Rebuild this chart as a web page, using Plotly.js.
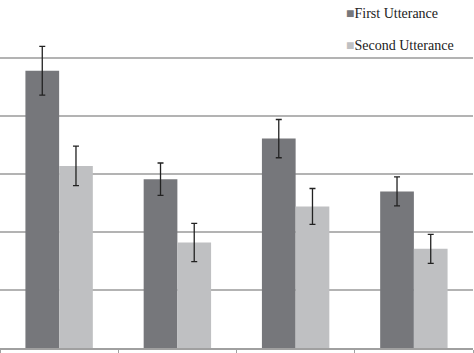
<!DOCTYPE html>
<html>
<head>
<meta charset="utf-8">
<script src="https://cdn.plot.ly/plotly-3.0.1.min.js"></script>
<style>html,body{margin:0;padding:0;background:#fff;}#chart{width:474px;height:353px;}</style>
</head>
<body>
<div id="chart"></div>
<script>
var categories = ["A", "B", "C", "D"];
var seriesNames = ["First Utterance", "Second Utterance"];
var seriesColors = ["#76777b", "#bfc0c2"];
var firstValues = [4.78, 2.91, 3.61, 2.70];
var firstErrors = [0.42, 0.28, 0.33, 0.25];
var secondValues = [3.14, 1.82, 2.44, 1.71];
var secondErrors = [0.34, 0.33, 0.31, 0.25];
var gridValues = [1, 2, 3, 4, 5];

var errStyle = {type: "data", visible: true, color: "#222222", thickness: 1.3, width: 3};

var traces = [
  {type: "bar", name: seriesNames[0], x: categories, y: firstValues,
   marker: {color: seriesColors[0]},
   error_y: Object.assign({array: firstErrors}, errStyle)},
  {type: "bar", name: seriesNames[1], x: categories, y: secondValues,
   marker: {color: seriesColors[1]},
   error_y: Object.assign({array: secondErrors}, errStyle)}
];

var legendY = [0.96, 0.868];
var annotations = seriesNames.map(function (n, i) {
  return {
    xref: "paper", yref: "paper", x: 0.727, y: legendY[i],
    xanchor: "left", yanchor: "middle", showarrow: false,
    text: '<span style="color:' + seriesColors[i] + '">■</span>' + n,
    font: {family: "Liberation Serif", size: 14, color: "#222"}
  };
});

var layout = {
  width: 474, height: 353,
  margin: {l: 0, r: 1, t: 0, b: 5, pad: 0},
  paper_bgcolor: "#ffffff", plot_bgcolor: "#ffffff",
  barmode: "group", bargap: 0.43, bargroupgap: 0,
  font: {family: "Liberation Serif", size: 12, color: "#222"},
  showlegend: false,
  annotations: annotations,
  xaxis: {showticklabels: false, ticks: "outside", tickson: "boundaries", ticklen: 5,
          tickcolor: "#a0a0a0", showline: true, linecolor: "#a0a0a0", linewidth: 1.5,
          showgrid: false, zeroline: false, fixedrange: true},
  yaxis: {range: [0, 6], tickvals: gridValues, showticklabels: false, showgrid: true,
          gridcolor: "#b3b3b3", gridwidth: 1.5, zeroline: false, showline: false, ticks: "",
          fixedrange: true}
};

Plotly.newPlot("chart", traces, layout, {displayModeBar: false, staticPlot: true});
</script>
</body>
</html>
